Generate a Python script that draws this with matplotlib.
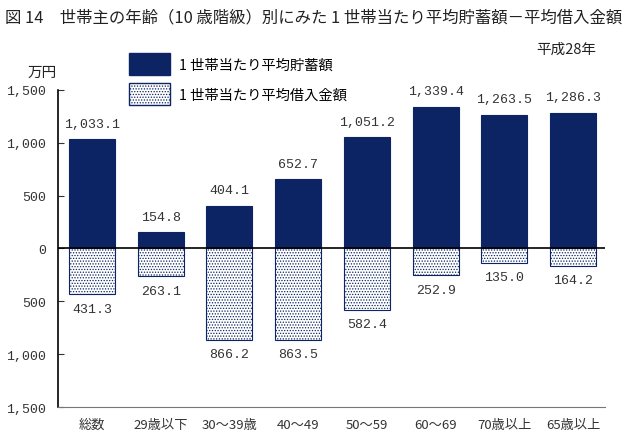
import numpy as np
import matplotlib
matplotlib.use('Agg')
from matplotlib import pyplot as plt
from matplotlib.patches import Patch
from matplotlib.ticker import FuncFormatter

plt.rcParams['font.family'] = ['Noto Sans CJK JP', 'DejaVu Sans']
plt.rcParams['hatch.linewidth'] = 0.6

# categories and values (万円)
categories = ['総数', '29歳以下', '30～39歳', '40～49', '50～59', '60～69', '70歳以上', '65歳以上']
savings = [1033.1, 154.8, 404.1, 652.7, 1051.2, 1339.4, 1263.5, 1286.3]
debts = [431.3, 263.1, 866.2, 863.5, 582.4, 252.9, 135.0, 164.2]
yticks = [-1500, -1000, -500, 0, 500, 1000, 1500]

navy = '#0c2463'
numfont = ['Liberation Mono', 'DejaVu Sans Mono']

fig = plt.figure(figsize=(6.4, 4.35), dpi=100)
ax = fig.add_axes([0.09, 0.062, 0.855, 0.729])

x = np.arange(len(categories))
ax.bar(x, savings, width=0.67, color=navy, edgecolor=navy, linewidth=0.8)
ax.bar(x, [-d for d in debts], width=0.67, color='white', edgecolor=navy,
       hatch='......', linewidth=0.8)

for i in range(len(categories)):
    ax.text(x[i], savings[i] + 90, f'{savings[i]:,.1f}', ha='center', va='bottom',
            fontsize=9.5, color='#333333', family=numfont)
    ax.text(x[i], -debts[i] - 80, f'{debts[i]:,.1f}', ha='center', va='top',
            fontsize=9.5, color='#333333', family=numfont)

ax.axhline(0, color='black', linewidth=1.2, zorder=3)
ax.set_xlim(-0.5, 7.46)
ax.set_ylim(-1500, 1500)
ax.set_yticks(yticks)
ax.yaxis.set_major_formatter(FuncFormatter(lambda v, p: f'{abs(int(v)):,}'))
for lab in ax.get_yticklabels():
    lab.set_family(numfont)
ax.set_xticks(x)
ax.set_xticklabels(categories)
ax.tick_params(axis='y', direction='in', length=4, labelsize=9.5, colors='#333333', pad=8)
ax.tick_params(axis='x', length=0, labelsize=9.5, colors='#333333', pad=8)
for s in ['top', 'right']:
    ax.spines[s].set_visible(False)
ax.spines['left'].set_linewidth(1.2)
ax.spines['bottom'].set_color('#777777')

handles = [Patch(facecolor=navy, edgecolor=navy, label='1 世帯当たり平均貯蓄額'),
           Patch(facecolor='white', edgecolor=navy, hatch='......', label='1 世帯当たり平均借入金額')]
fig.legend(handles=handles, loc='upper left', bbox_to_anchor=(0.181, 0.905), frameon=False,
           handlelength=2.9, handleheight=2.0, labelspacing=0.55, fontsize=10.3, handletextpad=0.6)

fig.text(0.008, 0.958, '図 14　世帯主の年齢（10 歳階級）別にみた 1 世帯当たり平均貯蓄額－平均借入金額',
         fontsize=11.8, va='center', color='#222222')
fig.text(0.884, 0.885, '平成28年', fontsize=10.5, ha='center', va='center', color='#222222')
fig.text(0.066, 0.832, '万円', fontsize=10.5, ha='center', va='center', color='#222222')

fig.savefig('out.png', dpi=100)
